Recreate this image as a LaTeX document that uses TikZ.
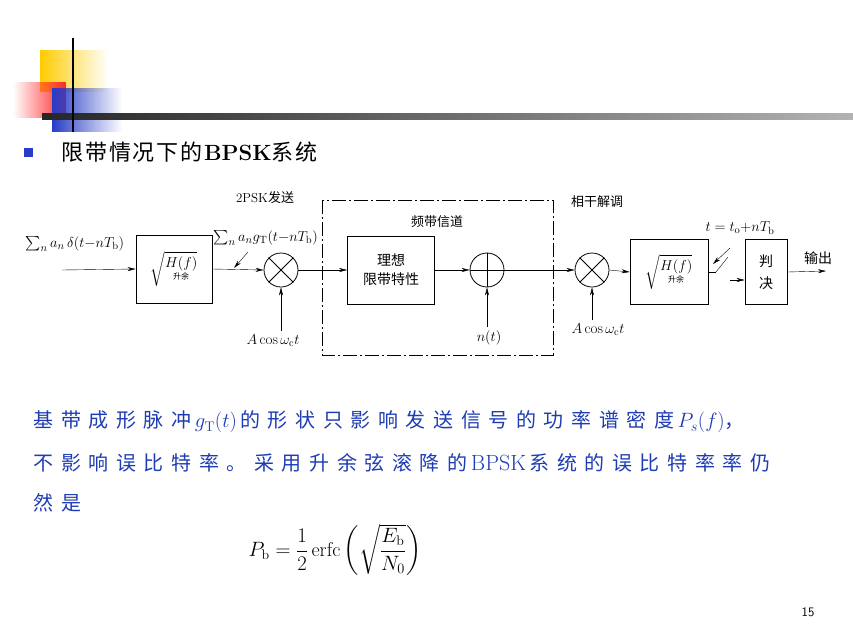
\documentclass[tikz,border=0pt]{standalone}
\usepackage{fontspec}
\usepackage{amsmath}
\newfontfamily\cjk{Noto Sans CJK SC}
\newfontfamily\cjkw[LetterSpace=38]{Noto Sans CJK SC}
\newfontfamily\cjkt[LetterSpace=8]{Noto Sans CJK SC}
\usetikzlibrary{arrows.meta,fadings}
\definecolor{tblue}{RGB}{40,60,200}
\definecolor{pblue}{RGB}{30,60,180}
\definecolor{lyel}{RGB}{255,204,0}
\newcommand{\hrc}{$\sqrt{\begin{array}{@{}c@{}}H(f)\\[-4pt]\text{\cjk\fontsize{8}{9}\selectfont 升余}\end{array}}$}
\begin{document}
\begin{tikzpicture}[x=1pt,y=-1pt,
  blk/.style={draw,thick,fill=white},
  mul/.style={draw,thick,circle,minimum size=34pt,inner sep=0pt,fill=white},
  arr/.style={-{Stealth[length=8pt,width=4pt]}},
  dtxt/.style={font=\fontsize{15}{17}\selectfont}]
\useasboundingbox (0,0) rectangle (853,640);
\fill[white] (0,0) rectangle (853,640);
% logo
\fill[lyel,path fading=east] (40,50) rectangle (108,92);
\fill[red!85!white,path fading=west] (13,82) rectangle (66,118);
\fill[tblue,path fading=east] (52,88) rectangle (122,132);
\shade[left color=black!85,right color=black!30] (42,113) rectangle (853,119);
\draw[line width=2.5pt] (73,38) -- (73,132);
% title
\fill[tblue] (24,148) rectangle (33,157);
\node[anchor=west,font=\cjkt\fontsize{22}{26}\selectfont] (title) at (58,152) {限带情况下的\textrm{\textbf{BPSK}}系统};
% channel dashed box
\draw[dash pattern=on 14pt off 3pt on 2pt off 3pt,thick] (322,200) rectangle (553,355);
\node[font=\fontsize{13}{15}\selectfont] (l2psk) at (265,198) {2PSK\cjk 发送};
\node[font=\cjk\fontsize{13}{15}\selectfont] (lch) at (437,222) {频带信道};
\node[font=\cjk\fontsize{13}{15}\selectfont] (lcoh) at (597,202) {相干解调};
% blocks
\node[blk,minimum width=76pt,minimum height=68pt,font=\fontsize{14}{16}\selectfont] (b1) at (174,269) {\hrc};
\node[mul] (m1) at (281,270) {};
\draw[thick] (m1.north west)--(m1.south east) (m1.north east)--(m1.south west);
\node[blk,minimum width=87pt,minimum height=68pt,align=center,font=\cjk\fontsize{14}{19}\selectfont] (b2) at (391,270) {理想\\限带特性};
\node[mul] (ad) at (487,270) {};
\draw[thick] (ad.north)--(ad.south) (ad.east)--(ad.west);
\node[mul] (m2) at (592,270) {};
\draw[thick] (m2.north west)--(m2.south east) (m2.north east)--(m2.south west);
\node[blk,minimum width=78pt,minimum height=65pt,font=\fontsize{14}{16}\selectfont] (b3) at (669,272) {\hrc};
\node[blk,minimum width=42pt,minimum height=65pt,align=center,font=\cjk\fontsize{14}{22}\selectfont] (b4) at (766,272) {判\\决};
% labels
\node[dtxt,anchor=west] (lin) at (22,244) {$\sum_n a_n\,\delta(t{-}nT_{\mathrm b})$};
\coordinate (in) at (62,270);
\node[dtxt,anchor=west] (lgt) at (210,238) {$\sum_n a_n g_{\mathrm T}(t{-}nT_{\mathrm b})$};
\coordinate (ga) at (248,252); \coordinate (gb) at (234,268);
\node[dtxt] (lc1) at (273,341) {$A\cos\omega_{\mathrm c}t$};
\node[dtxt] (lnt) at (489,338) {$n(t)$};
\node[dtxt] (lc2) at (598,330) {$A\cos\omega_{\mathrm c}t$};
\node[dtxt] (lt) at (740,228) {$t=t_{\mathrm o}{+}nT_{\mathrm b}$};
\node[font=\cjk\fontsize{14}{16}\selectfont] (lout) at (818,258) {输出};
\coordinate (out) at (826,271);
% connectors
\draw[arr] (in) -- (b1.west);
\draw[arr] (b1.east) -- (m1.west);
\draw[arr] (ga) -- (gb);
\draw[arr] (lc1.north -| m1.south) -- (m1.south);
\draw[arr] (m1.east) -- (b2.west);
\draw[arr] (b2.east) -- (ad.west);
\draw[arr] (lnt.north -| ad.south) -- (ad.south);
\draw[arr] (ad.east) -- (m2.west);
\draw[arr] (lc2.north -| m2.south) -- (m2.south);
\draw[arr] (m2.east) -- (b3.west);
\coordinate (s1) at (716,272); \coordinate (s2) at (730,280);
\draw (b3.east) -- (s1);
\draw (s1) -- (728,257);
\draw[arr] (s2) -- (b4.west |- s2);
\draw[arr] (730,248) -- (713,264);
\draw[arr] (b4.east) -- (out);
% paragraph
\begin{scope}[every node/.style={anchor=west,text=pblue,font=\cjkw\fontsize{20}{24}\selectfont}]
\node (p1) at (30,422) {基带成形脉冲\,$g_{\mathrm T}(t)$\,的形状只影响发送信号的功率谱密度\,$P_s(f)$，};
\node (p2) at (30,463) {不影响误比特率。采用升余弦滚降的\,\textrm{\fontsize{22}{24}\selectfont BPSK}\,系统的误比特率率仍};
\node (p3) at (30,503) {然是};
\end{scope}
\node[anchor=west,font=\fontsize{20}{24}\selectfont] (eq) at (245,550) {$P_{\mathrm b}=\dfrac{1}{2}\,\mathrm{erfc}\left(\sqrt{\dfrac{E_{\mathrm b}}{N_0}}\right)$};
\node[font=\sffamily\fontsize{13}{15}\selectfont] (pg) at (808,612) {15};
\end{tikzpicture}
\end{document}
